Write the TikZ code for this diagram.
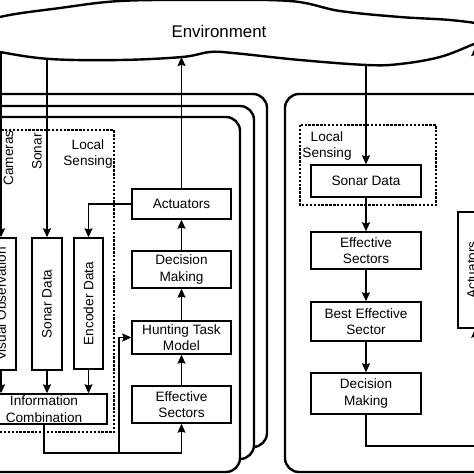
\documentclass[tikz,border=0pt]{standalone}
\usepackage{fontspec}
\usepackage{graphicx}
\setmainfont{Liberation Sans}
\usetikzlibrary{arrows.meta}
\begin{document}
\begin{tikzpicture}[x=1pt,y=-1pt,
  box/.style={draw, line width=1.4pt, fill=white, align=center, inner sep=0pt, font=\fontsize{13.6}{16.5}\selectfont},
  arr/.style={line width=1.4pt, -{Stealth[length=9pt,width=8pt,inset=1.2pt]}},
  frame/.style={line width=2.4pt, fill=white, rounded corners=14pt},
  dashbox/.style={line width=1.4pt, dash pattern=on 2.4pt off 1.5pt},
  lbl/.style={align=center, inner sep=0pt, font=\fontsize{13.6}{16.5}\selectfont}]
\useasboundingbox (0,0) rectangle (474,474);

% environment cloud
\draw[line width=2.4pt, fill=white] plot[smooth cycle, tension=0.6] coordinates {(-30,30) (0,17) (60,8) (120,1) (200,0) (290,1) (340,11) (400,17) (450,20) (485,25) (500,33) (474,44) (440,57) (400,64) (367,65) (300,60) (233,53) (210,52) (182,57) (120,60) (50,59) (0,52) (-30,45)};
\node[inner sep=0pt, font=\fontsize{16.9}{18}\selectfont] (env) at (219,31) {Environment};

% stacked robot frames (left)
\draw[frame] (-30,94) rectangle (267,447);
\draw[frame] (-30,106) rectangle (254,459);
\draw[frame] (-30,117) rectangle (240,472);
% right robot frame
\draw[frame] (285,94) rectangle (500,472);

% dashed local sensing frames
\draw[dashbox] (-10,130) rectangle (114,432);
\draw[dashbox] (300,125) rectangle (436,205);
\node[lbl] (lsl) at (88,154) {Local\\Sensing};
\node[lbl] (lsr) at (327,146) {Local\\Sensing};

% left robot nodes
\node[box, minimum width=99pt, minimum height=30pt] (act) at (181.5,204) {Actuators};
\node[box, minimum width=99pt, minimum height=37pt] (dm) at (181.5,269.5) {Decision\\Making};
\node[box, minimum width=99pt, minimum height=33pt] (htm) at (181.5,337.5) {Hunting Task\\Model};
\node[box, minimum width=99pt, minimum height=37pt] (es) at (181.5,404.5) {Effective\\Sectors};
\node[box, minimum width=30pt, minimum height=132pt] (vo) at (1,304) {\rotatebox{90}{Visual Observation}};
\node[box, minimum width=30pt, minimum height=132pt] (sd) at (47,304) {\rotatebox{90}{Sonar Data}};
\node[box, minimum width=29pt, minimum height=131pt] (ed) at (88.5,303.5) {\rotatebox{90}{Encoder Data}};
\node[box, minimum width=126pt, minimum height=30pt] (ic) at (44,409) {Information\\Combination};
\node[lbl, rotate=90] (camlbl) at (8.5,158) {Cameras};
\node[lbl, rotate=90] (sonlbl) at (37,151.5) {Sonar};

% right robot nodes
\node[box, minimum width=110pt, minimum height=32pt] (rsd) at (366,181) {Sonar Data};
\node[box, minimum width=110pt, minimum height=37pt] (res) at (366,250.5) {Effective\\Sectors};
\node[box, minimum width=110pt, minimum height=39pt] (rbes) at (366,321.5) {Best Effective\\Sector};
\node[box, minimum width=110pt, minimum height=41pt] (rdm) at (366,393.5) {Decision\\Making};
\node[box, minimum width=28pt, minimum height=116pt] (ract) at (472,270) {\rotatebox{90}{Actuators}};

% cloud ends of connectors
\coordinate (c0) at (1,52);
\coordinate (c1) at (47,59);
\coordinate (c2) at (181.5,57);
\coordinate (c3) at (366,65);
\coordinate (c4) at (475.2,47);
\coordinate (jn) at (119,453);
\coordinate (rr) at (475.2,446);

% left connectors
\draw[arr] (c0) -- (vo.north);
\draw[arr] (c1) -- (sd.north);
\draw[arr] (act.north) -- (c2);
\draw[arr] (act.west) -| (ed.north);
\draw[arr] (dm.north) -- (act.south);
\draw[arr] (htm.north) -- (dm.south);
\draw[arr] (es.north) -- (htm.south);
\draw[arr] (vo.south) -- (vo.south |- ic.north);
\draw[arr] (sd.south) -- (sd.south |- ic.north);
\draw[arr] (ed.south) -- (ed.south |- ic.north);
\draw[arr] (ic.south) |- (jn) -| (es.south);
\draw[arr] (jn) |- (htm.west);

% right connectors
\draw[arr] (c3) -- (rsd.north);
\draw[arr] (rsd.south) -- (res.north);
\draw[arr] (res.south) -- (rbes.north);
\draw[arr] (rbes.south) -- (rdm.north);
\draw[arr] (rdm.south) |- (rr) -- (rr |- ract.south);
\draw[arr] (c4 |- ract.north) -- (c4);
\end{tikzpicture}
\end{document}
